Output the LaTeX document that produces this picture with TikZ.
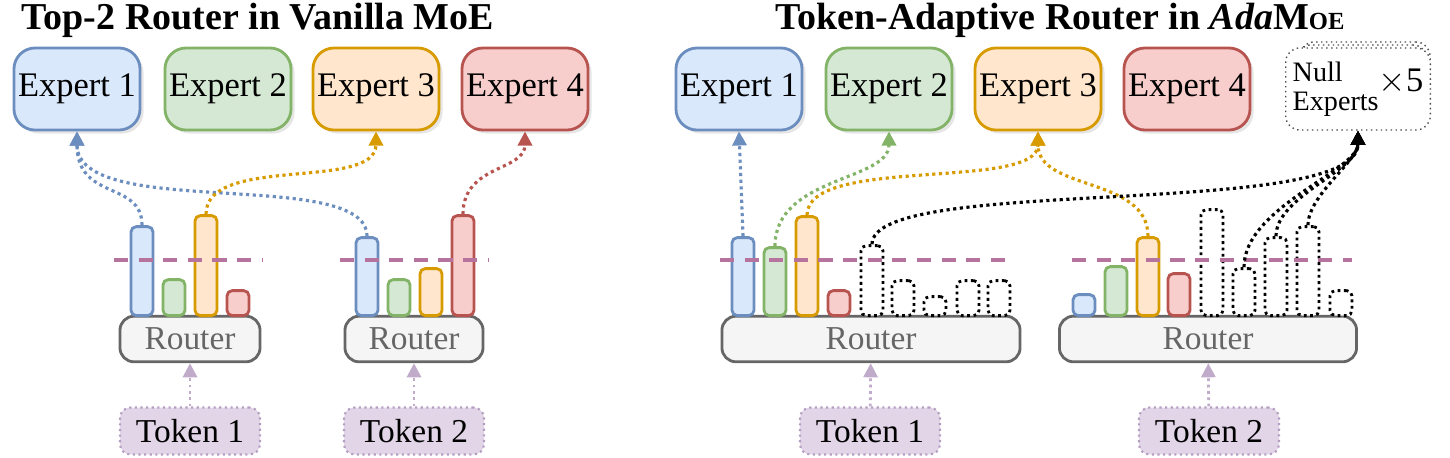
\documentclass[tikz,border=0pt]{standalone}
\usepackage{fontspec}
\setmainfont{Liberation Serif}
\usetikzlibrary{arrows.meta, shadows}
\definecolor{blueF}{HTML}{DAE8FC}\definecolor{blueD}{HTML}{6C8EBF}
\definecolor{greenF}{HTML}{D5E8D4}\definecolor{greenD}{HTML}{82B366}
\definecolor{orangeF}{HTML}{FFE6CC}\definecolor{orangeD}{HTML}{D79B00}
\definecolor{redF}{HTML}{F8CECC}\definecolor{redD}{HTML}{B85450}
\definecolor{purpleF}{HTML}{E1D5E7}\definecolor{purpleD}{HTML}{9673A6}
\definecolor{thrD}{HTML}{B5739D}
\tikzset{
  expert/.style={draw, rounded corners=6pt, line width=0.8pt, minimum width=1.26cm, minimum height=0.82cm,
    font=\fontsize{9.8}{11}\selectfont, inner sep=1pt, drop shadow={opacity=0.2, shadow xshift=1pt, shadow yshift=-1pt}},
  router/.style={draw=black!60, fill=black!4, rounded corners=4pt, line width=0.8pt, minimum height=0.44cm,
    text=black!60, font=\fontsize{9.5}{10}\selectfont},
  token/.style={draw=purpleD!70, fill=purpleF, densely dotted, rounded corners=3pt, line width=0.6pt,
    minimum width=1.4cm, minimum height=0.46cm, font=\fontsize{9.5}{10}\selectfont},
  bar/.style={anchor=south, minimum width=0.22cm, inner sep=0pt, rounded corners=1.5pt, line width=0.8pt},
  nbar/.style={bar, draw=black, densely dotted, fill=white},
  conn/.style={densely dotted, line width=0.9pt, -{Triangle[length=4pt, width=4pt]}},
  thr/.style={thrD, line width=0.9pt, dash pattern=on 4pt off 3pt},
  nullbox/.style={draw=black!70, densely dotted, fill=white, rounded corners=4pt, minimum width=1.3cm, minimum height=0.82cm}
}
\begin{document}
\begin{tikzpicture}[x=0.01cm, y=0.01cm]
  \useasboundingbox (0,0) rectangle (1450,-457);
  % Titles
  \node[font=\bfseries\fontsize{10.8}{12}\selectfont] (t1) at (258,-20) {Top-2 Router in Vanilla MoE};
  \node[font=\bfseries\fontsize{10.8}{12}\selectfont] (t2) at (1060,-20) {Token-Adaptive Router in \textit{Ada}M{\scriptsize OE}};

  % Experts (left)
  \node[expert, fill=blueF, draw=blueD] (le1) at (77,-89) {Expert 1};
  \node[expert, fill=greenF, draw=greenD] (le2) at (228,-89) {Expert 2};
  \node[expert, fill=orangeF, draw=orangeD] (le3) at (376,-89) {Expert 3};
  \node[expert, fill=redF, draw=redD] (le4) at (525,-89) {Expert 4};
  % Experts (right)
  \node[expert, fill=blueF, draw=blueD] (re1) at (739,-89) {Expert 1};
  \node[expert, fill=greenF, draw=greenD] (re2) at (889,-89) {Expert 2};
  \node[expert, fill=orangeF, draw=orangeD] (re3) at (1038,-89) {Expert 3};
  \node[expert, fill=redF, draw=redD] (re4) at (1187,-89) {Expert 4};
  \node[nullbox] at (1365,-83) {};
  \node[nullbox] at (1362,-86) {};
  \node[nullbox, font=\fontsize{9.8}{11}\selectfont, inner sep=2pt] (nul) at (1358,-89)
    {{\fontsize{8}{9.5}\selectfont\shortstack[l]{Null\\Experts}}\raisebox{1.2ex}{$\times$5}};

  % Routers and tokens
  \node[router, minimum width=1.4cm] (lr1) at (190,-339) {Router};
  \node[router, minimum width=1.38cm] (lr2) at (414,-339) {Router};
  \node[router, minimum width=2.98cm] (rr1) at (871,-339) {Router};
  \node[router, minimum width=2.97cm] (rr2) at (1208,-339) {Router};
  \node[token] (lt1) at (190,-431) {Token 1};
  \node[token] (lt2) at (414,-431) {Token 2};
  \node[token] (rt1) at (870,-431) {Token 1};
  \node[token] (rt2) at (1209,-431) {Token 2};
  \foreach \t/\r in {lt1/lr1, lt2/lr2, rt1/rr1, rt2/rr2}
    \draw[conn, purpleD!60, line width=0.8pt] (\t) -- (\r);

  % Bars
  \foreach \n/\x/\h/\c in {a1/142/89/blue, a2/174/36/green, a3/206/100/orange, a4/238/25/red,
      b1/367/78/blue, b2/399/36/green, b3/431/47/orange, b4/463/100/red,
      c1/743/78/blue, c2/775/68/green, c3/807/99/orange, c4/839/25/red,
      d1/1084/21/blue, d2/1116/49/green, d3/1148/78/orange, d4/1179/42/red}
    \node[bar, fill=\c F, draw=\c D, minimum height=\h*0.01cm] (\n) at (\x,-317) {};
  \foreach \n/\x/\h in {c5/872/70, c6/903/35, c7/935/19, c8/968/35, c9/999/35,
      d5/1212/106, d6/1244/47, d7/1276/78, d8/1308/89, d9/1341/25}
    \node[nbar, minimum height=\h*0.01cm] (\n) at (\x,-317) {};

  % Thresholds
  \draw[thr] (114,-260) -- (262,-260);
  \draw[thr] (340,-260) -- (488,-260);
  \draw[thr] (720,-260) -- (1010,-260);
  \draw[thr] (1072,-260) -- (1352,-260);

  % Routing (left)
  \draw[conn, blueD] (a1.north) .. controls +(0,45) and +(0,-70) .. (le1.south);
  \draw[conn, blueD] (b1.north) .. controls +(0,70) and +(0,-90) .. (le1.south);
  \draw[conn, orangeD] (a3.north) .. controls +(0,60) and +(0,-60) .. (le3.south);
  \draw[conn, redD] (b4.north) .. controls +(0,50) and +(0,-40) .. (le4.south);
  % Routing (right)
  \draw[conn, blueD] (c1.north) -- (re1.south);
  \draw[conn, greenD] (c2.north) .. controls +(0,70) and +(0,-50) .. (re2.south);
  \draw[conn, orangeD] (c3.north) .. controls +(0,60) and +(0,-60) .. (re3.south);
  \draw[conn, orangeD] (d3.north) .. controls +(0,60) and +(0,-60) .. (re3.south);
  \draw[conn, black] (c5.north) .. controls +(0,70) and +(0,-90) .. (nul.south);
  \draw[conn, black] (d6.north) .. controls +(0,60) and +(0,-40) .. (nul.south);
  \draw[conn, black] (d7.north) .. controls +(0,40) and +(0,-40) .. (nul.south);
  \draw[conn, black] (d8.north) .. controls +(0,30) and +(0,-30) .. (nul.south);
\end{tikzpicture}
\end{document}
